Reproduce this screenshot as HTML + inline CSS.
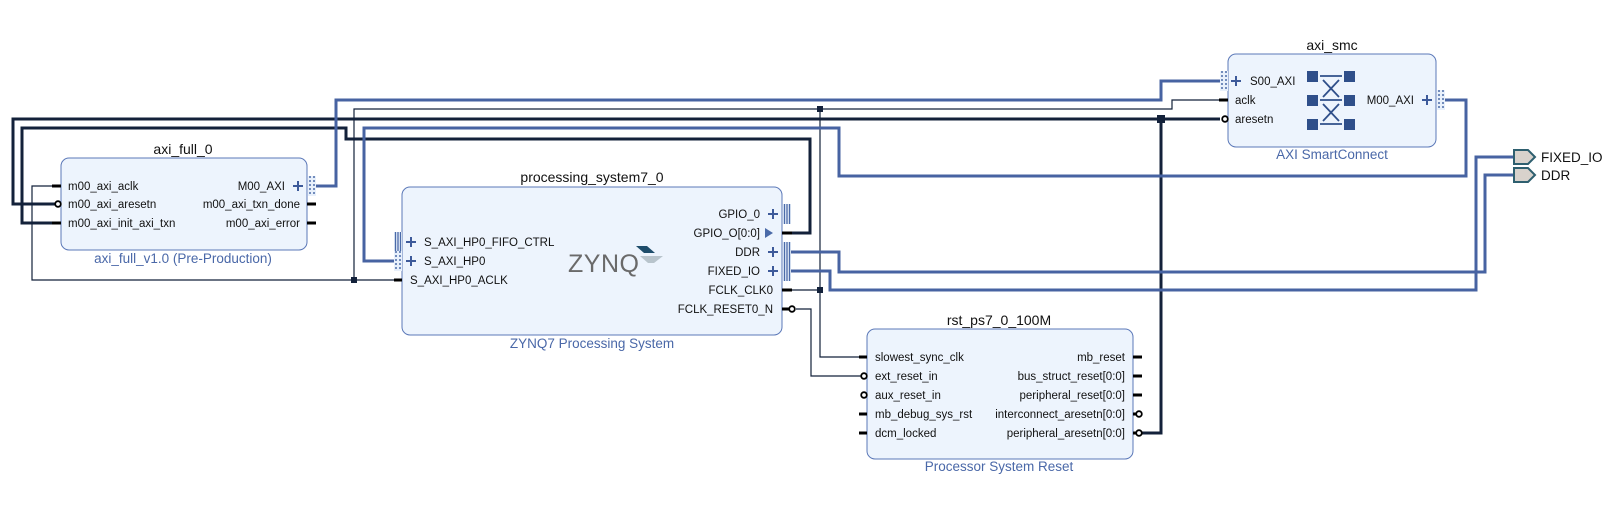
<!DOCTYPE html>
<html><head><meta charset="utf-8"><style>
html,body{margin:0;padding:0;background:#fff;}
svg{display:block;}
text{font-family:"Liberation Sans",sans-serif;}
.p{font-size:11.5px;fill:#111;}
.t{font-size:14px;fill:#111;text-anchor:middle;}
.s{font-size:13.5px;fill:#4a68a8;text-anchor:middle;}
.blk{fill:#edf4fd;stroke:#5b78b8;stroke-width:1;}
.dk{fill:none;stroke:#13213a;stroke-width:3;}
.th{fill:none;stroke:#13213a;stroke-width:1.2;}
.bl{fill:none;stroke:#4763a2;stroke-width:3;}
.stub{stroke:#000;stroke-width:3;}
.plus{stroke:#3d5a9a;stroke-width:2;}
</style></head><body>
<svg width="1612" height="522" viewBox="0 0 1612 522" xmlns="http://www.w3.org/2000/svg">
<defs>
<g id="pl"><line class="plus" x1="-5" y1="0" x2="5" y2="0"/><line class="plus" x1="0" y1="-5" x2="0" y2="5"/></g>
<g id="dot"><rect x="0" y="-10" width="8" height="20" fill="#e8f0fb"/><line x1="2" y1="-10" x2="2" y2="10" stroke="#4a6aa8" stroke-width="1.5" stroke-dasharray="2,2"/><line x1="6" y1="-10" x2="6" y2="10" stroke="#4a6aa8" stroke-width="1.5" stroke-dasharray="2,2"/></g>
<g id="tri"><rect x="0" y="-10" width="8" height="20" fill="#e8f0fb"/><line x1="1.5" y1="-10" x2="1.5" y2="10" stroke="#4a6aa8" stroke-width="1.3"/><line x1="4" y1="-10" x2="4" y2="10" stroke="#4a6aa8" stroke-width="1.3"/><line x1="6.5" y1="-10" x2="6.5" y2="10" stroke="#4a6aa8" stroke-width="1.3"/></g>
</defs>

<!-- wires -->
<polyline class="dk" points="58,204 13,204 13,119 1220,119"/>
<polyline class="dk" points="58,223 22,223 22,128 346,128 346,139 810,139 810,233 792,233"/>
<polyline class="dk" points="1161,119 1161,433 1142,433"/>
<rect x="1157" y="115" width="8" height="8" fill="#13213a"/>
<polyline class="th" points="55,186 32,186 32,280 397,280"/>
<polyline class="th" points="354,280 354,109 1172,109 1172,100 1220,100"/>
<rect x="351" y="277" width="6" height="6" fill="#13213a"/>
<rect x="817" y="106" width="6" height="6" fill="#13213a"/>
<polyline class="th" points="792,290 820,290"/>
<polyline class="th" points="820,109 820,357 862,357"/>
<rect x="817" y="287" width="6" height="6" fill="#13213a"/>
<polyline class="th" points="796,309 811,309 811,376 862,376"/>
<polyline class="bl" points="316,186 336,186 336,100 1161,100 1161,81 1220,81"/>
<polyline class="bl" points="1445,100 1466,100 1466,176 839,176 839,128 364,128 364,261 395,261"/>
<polyline class="bl" points="790,252 839,252 839,272 1485,272 1485,175 1514,175"/>
<polyline class="bl" points="790,271 830,271 830,290 1476,290 1476,157 1514,157"/>

<!-- axi_full_0 -->
<text class="t" x="183" y="154">axi_full_0</text>
<rect class="blk" x="61" y="158" width="246" height="92" rx="8"/>
<text class="s" x="183" y="263">axi_full_v1.0 (Pre-Production)</text>
<line class="stub" x1="52" y1="186" x2="61" y2="186"/>
<line class="stub" x1="55" y1="204" x2="61" y2="204"/><circle cx="58" cy="204" r="2.8" fill="#fff" stroke="#000" stroke-width="1.8"/>
<line class="stub" x1="52" y1="223" x2="61" y2="223"/>
<text class="p" x="68" y="190">m00_axi_aclk</text>
<text class="p" x="68" y="208">m00_axi_aresetn</text>
<text class="p" x="68" y="227">m00_axi_init_axi_txn</text>
<text class="p" x="285" y="190" text-anchor="end">M00_AXI</text><use href="#pl" x="298" y="186"/><use href="#dot" x="308" y="186"/>
<text class="p" x="300" y="208" text-anchor="end">m00_axi_txn_done</text><line class="stub" x1="307" y1="204" x2="316" y2="204"/>
<text class="p" x="300" y="227" text-anchor="end">m00_axi_error</text><line class="stub" x1="307" y1="223" x2="316" y2="223"/>

<!-- processing_system7_0 -->
<text class="t" x="592" y="182">processing_system7_0</text>
<rect class="blk" x="402" y="187" width="380" height="148" rx="8"/>
<text class="s" x="592" y="348">ZYNQ7 Processing System</text>
<use href="#tri" x="394" y="242"/><use href="#pl" x="411" y="242"/><text class="p" x="424" y="246">S_AXI_HP0_FIFO_CTRL</text>
<use href="#dot" x="394" y="261"/><use href="#pl" x="411" y="261"/><text class="p" x="424" y="265">S_AXI_HP0</text>
<line class="stub" x1="394" y1="280" x2="402" y2="280"/><text class="p" x="410" y="284">S_AXI_HP0_ACLK</text>
<text x="568" y="272" font-size="25" fill="#6a6a6a" style="font-family:'Liberation Sans',sans-serif;letter-spacing:0.5px">ZYNQ</text>
<polygon points="636,246 647,246 655,253 644,253" fill="#1e4d6b"/>
<polygon points="640,256 663,256 654,263 648,263" fill="#b8c4cc"/>
<text class="p" x="760" y="218" text-anchor="end">GPIO_0</text><use href="#pl" x="773" y="214"/><use href="#tri" x="783" y="214"/>
<text class="p" x="760" y="237" text-anchor="end">GPIO_O[0:0]</text><polygon points="765,228 765,238 773,233" fill="#4a6aa8"/><line class="stub" x1="782" y1="233" x2="792" y2="233"/>
<text class="p" x="760" y="256" text-anchor="end">DDR</text><use href="#pl" x="773" y="252"/><use href="#tri" x="783" y="252"/>
<text class="p" x="760" y="275" text-anchor="end">FIXED_IO</text><use href="#pl" x="773" y="271"/><use href="#tri" x="783" y="271"/>
<text class="p" x="773" y="294" text-anchor="end">FCLK_CLK0</text><line class="stub" x1="782" y1="290" x2="792" y2="290"/>
<text class="p" x="773" y="313" text-anchor="end">FCLK_RESET0_N</text><line class="stub" x1="782" y1="309" x2="790" y2="309"/><circle cx="792" cy="309" r="2.8" fill="#fff" stroke="#000" stroke-width="1.8"/>

<!-- axi_smc -->
<text class="t" x="1332" y="50">axi_smc</text>
<rect class="blk" x="1228" y="54" width="208" height="93" rx="8"/>
<text class="s" x="1332" y="159">AXI SmartConnect</text>
<use href="#dot" x="1220" y="81"/><use href="#pl" x="1236" y="81"/><text class="p" x="1250" y="85">S00_AXI</text>
<line class="stub" x1="1219" y1="100" x2="1228" y2="100"/><text class="p" x="1235" y="104">aclk</text>
<line class="stub" x1="1222" y1="119" x2="1228" y2="119"/><circle cx="1225" cy="119" r="2.8" fill="#fff" stroke="#000" stroke-width="1.8"/><text class="p" x="1235" y="123">aresetn</text>
<text class="p" x="1414" y="104" text-anchor="end">M00_AXI</text><use href="#pl" x="1427" y="100"/><use href="#dot" x="1437" y="100"/>
<g fill="#2f4f8a">
<rect x="1307" y="71" width="11" height="11"/><rect x="1344" y="71" width="11" height="11"/>
<rect x="1307" y="95" width="11" height="11"/><rect x="1344" y="95" width="11" height="11"/>
<rect x="1307" y="119" width="11" height="11"/><rect x="1344" y="119" width="11" height="11"/>
</g>
<g stroke="#2f4f8a" stroke-width="1.8">
<line x1="1320" y1="76" x2="1342" y2="76"/><line x1="1320" y1="100" x2="1342" y2="100"/><line x1="1320" y1="124" x2="1342" y2="124"/>
<line x1="1323" y1="80" x2="1339" y2="97"/><line x1="1339" y1="80" x2="1323" y2="97"/>
<line x1="1323" y1="104" x2="1339" y2="121"/><line x1="1339" y1="104" x2="1323" y2="121"/>
</g>

<!-- rst_ps7_0_100M -->
<text class="t" x="999" y="325">rst_ps7_0_100M</text>
<rect class="blk" x="867" y="329" width="266" height="130" rx="8"/>
<text class="s" x="999" y="471">Processor System Reset</text>
<line class="stub" x1="859" y1="357" x2="867" y2="357"/><text class="p" x="875" y="361">slowest_sync_clk</text>
<line class="stub" x1="862" y1="376" x2="867" y2="376"/><circle cx="864" cy="376" r="2.8" fill="#fff" stroke="#000" stroke-width="1.8"/><text class="p" x="875" y="380">ext_reset_in</text>
<line class="stub" x1="862" y1="395" x2="867" y2="395"/><circle cx="864" cy="395" r="2.8" fill="#fff" stroke="#000" stroke-width="1.8"/><text class="p" x="875" y="399">aux_reset_in</text>
<line class="stub" x1="859" y1="414" x2="867" y2="414"/><text class="p" x="875" y="418">mb_debug_sys_rst</text>
<line class="stub" x1="859" y1="433" x2="867" y2="433"/><text class="p" x="875" y="437">dcm_locked</text>
<text class="p" x="1125" y="361" text-anchor="end">mb_reset</text><line class="stub" x1="1133" y1="357" x2="1142" y2="357"/>
<text class="p" x="1125" y="380" text-anchor="end">bus_struct_reset[0:0]</text><line class="stub" x1="1133" y1="376" x2="1142" y2="376"/>
<text class="p" x="1125" y="399" text-anchor="end">peripheral_reset[0:0]</text><line class="stub" x1="1133" y1="395" x2="1142" y2="395"/>
<text class="p" x="1125" y="418" text-anchor="end">interconnect_aresetn[0:0]</text><line class="stub" x1="1133" y1="414" x2="1138" y2="414"/><circle cx="1139" cy="414" r="2.8" fill="#fff" stroke="#000" stroke-width="1.8"/>
<text class="p" x="1125" y="437" text-anchor="end">peripheral_aresetn[0:0]</text><line class="stub" x1="1133" y1="433" x2="1138" y2="433"/><circle cx="1139" cy="433" r="2.8" fill="#fff" stroke="#000" stroke-width="1.8"/>

<!-- external ports -->
<polygon points="1514,150 1528,150 1535,157 1528,164 1514,164" fill="#d8d2cc" stroke="#2e5f6f" stroke-width="2"/>
<polygon points="1514,168 1528,168 1535,175 1528,182 1514,182" fill="#d8d2cc" stroke="#2e5f6f" stroke-width="2"/>
<text x="1541" y="162" font-size="13.5" fill="#111">FIXED_IO</text>
<text x="1541" y="180" font-size="13.5" fill="#111">DDR</text>
</svg>
</body></html>
